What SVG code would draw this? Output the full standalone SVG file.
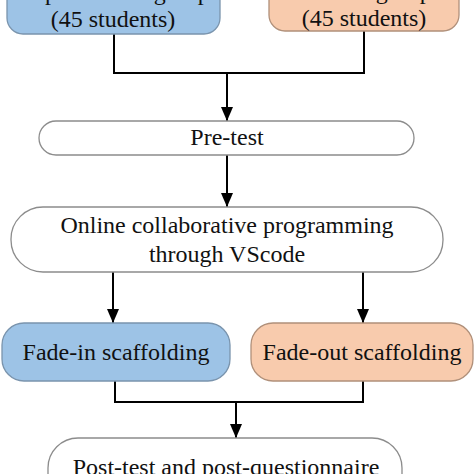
<svg xmlns="http://www.w3.org/2000/svg" width="474" height="474" viewBox="0 0 474 474">
<style>
.t{font-family:"Liberation Serif","DejaVu Serif","Times New Roman",serif;font-size:24px;fill:#111;text-anchor:middle}
.blue{fill:#9dc3e6;stroke:#7a94ad;stroke-width:1.3}
.orange{fill:#f8cbad;stroke:#b0907a;stroke-width:1.3}
.white{fill:#fff;stroke:#8c8c8c;stroke-width:1.3}
.c{fill:none;stroke:#000;stroke-width:2}
</style>
<defs>
<marker id="ah" viewBox="0 0 14 12" refX="14" refY="6" markerWidth="14" markerHeight="12" markerUnits="userSpaceOnUse" orient="auto">
<path d="M0,0 L14,6 L0,12 Z" fill="#000"/>
</marker>
</defs>
<rect width="474" height="474" fill="#fff"/>
<g id="connectors">
<polyline class="c" points="114,34 114,73 364,73 364,31"/>
<line class="c" x1="227" y1="73" x2="227" y2="121" marker-end="url(#ah)"/>
<line class="c" x1="227" y1="155" x2="227" y2="207" marker-end="url(#ah)"/>
<line class="c" x1="113" y1="272" x2="113" y2="323" marker-end="url(#ah)"/>
<line class="c" x1="363" y1="272" x2="363" y2="323" marker-end="url(#ah)"/>
<polyline class="c" points="115,381 115,402 363,402 363,381"/>
<line class="c" x1="236" y1="402" x2="236" y2="438" marker-end="url(#ah)"/>
</g>
<g id="experimental">
<rect class="blue" x="7" y="-30" width="213" height="64" rx="16"/>
<text class="t" x="114" y="0">Experimental group</text>
<text class="t" x="113" y="27">(45 students)</text>
</g>
<g id="control">
<rect class="orange" x="269" y="-30" width="190" height="61" rx="16"/>
<text class="t" x="364" y="-1">Control group</text>
<text class="t" x="364" y="26">(45 students)</text>
</g>
<g id="pretest">
<rect class="white" x="39" y="121" width="375" height="34" rx="17"/>
<text class="t" x="227" y="145">Pre-test</text>
</g>
<g id="online">
<rect class="white" x="11" y="207" width="432" height="65" rx="32"/>
<text class="t" x="227" y="233">Online collaborative programming</text>
<text class="t" x="227" y="262">through VScode</text>
</g>
<g id="fadein">
<rect class="blue" x="2" y="323" width="228" height="58" rx="22"/>
<text class="t" x="116" y="360">Fade-in scaffolding</text>
</g>
<g id="fadeout">
<rect class="orange" x="251" y="323" width="222" height="58" rx="22"/>
<text class="t" x="362" y="360">Fade-out scaffolding</text>
</g>
<g id="posttest">
<rect class="white" x="48" y="438" width="354" height="70" rx="30"/>
<text class="t" x="226" y="475">Post-test and post-questionnaire</text>
</g>
</svg>
